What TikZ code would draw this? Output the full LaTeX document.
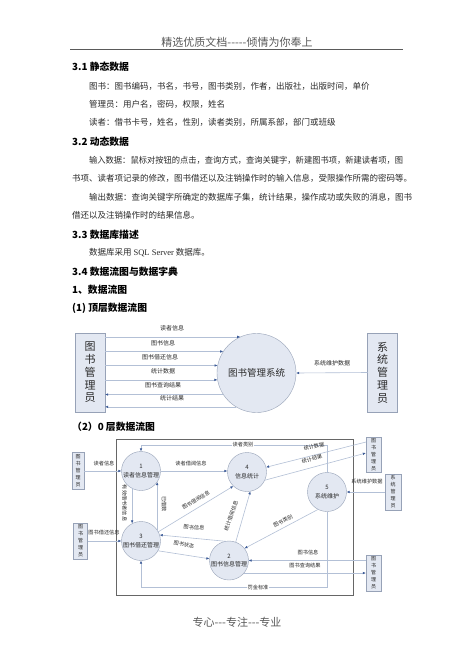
\documentclass[tikz,border=0pt]{standalone}
\usepackage{fontspec}
\usepackage{graphicx}
\setmainfont{Noto Sans CJK SC}[Ligatures=TeXOff]
\newfontfamily\lat{Liberation Serif}
\usetikzlibrary{arrows.meta,calc}
\definecolor{ln}{HTML}{B3C0D6}
\definecolor{tipc}{HTML}{3D5C98}
\definecolor{cfill}{HTML}{E3E8F2}
\definecolor{cdraw}{HTML}{97A2B7}
\definecolor{txt}{HTML}{2A2A2A}
\definecolor{hdr}{HTML}{5A5A5A}
\begin{document}
\begin{tikzpicture}[x=1pt,y=-1pt,
  body/.style={anchor=west,inner sep=0,font=\fontsize{8.5}{8.5}\selectfont,text=txt},
  head/.style={anchor=west,inner sep=0,font=\fontsize{9.8}{9.8}\selectfont\bfseries,text=black},
  bigbox/.style={draw=cdraw,fill=cfill,minimum width=30pt,minimum height=79pt,inner sep=0,outer sep=0,align=center,font=\fontsize{11}{12.75}\selectfont,text=txt},
  bigcirc/.style={circle,draw=cdraw,fill=cfill,minimum size=79pt,inner sep=0,outer sep=0,font=\fontsize{9.5}{9.5}\selectfont,text=txt},
  arr/.style={draw=ln,line width=0.6pt,-{Latex[length=3.2pt,width=2.6pt,color=tipc]}},
  lab/.style={inner sep=0.5pt,font=\fontsize{6}{6}\selectfont,text=txt},
  slab/.style={inner sep=0.3pt,font=\fontsize{5.2}{5.2}\selectfont,text=txt},
  sc/.style={circle,draw=cdraw,fill=cfill,minimum size=39pt,inner sep=0,outer sep=0,align=center,font=\fontsize{6}{8.5}\selectfont,text=txt},
  sb/.style={draw=cdraw,fill=cfill,inner sep=0,outer sep=0,align=center,font=\fontsize{5}{7}\selectfont,text=txt,minimum width=14pt,minimum height=36pt}
]
\useasboundingbox (0,0) rectangle (474,670);
\fill[white] (0,0) rectangle (474,670);

% header / footer
\node[inner sep=0,font=\fontsize{11}{11}\selectfont,text=hdr] (hd) at (237,42) {精选优质文档-----倾情为你奉上};
\draw[hdr,line width=0.5pt] (70,49.5) -- (403,49.5);
\node[inner sep=0,font=\fontsize{11}{11}\selectfont,text=hdr] (ft) at (237,622) {专心---专注---专业};

% text
\node[head] (h31) at (72,67) {3.1 静态数据};
\node[body] (t1) at (89,86) {图书：图书编码，书名，书号，图书类别，作者，出版社，出版时间，单价};
\node[body] (t2) at (89,104) {管理员：用户名，密码，权限，姓名};
\node[body] (t3) at (89,122.5) {读者：借书卡号，姓名，性别，读者类别，所属系部，部门或班级};
\node[head] (h32) at (72,141.5) {3.2 动态数据};
\node[body] (t4) at (89,160) {\scalebox{0.972}[1]{输入数据：鼠标对按钮的点击，查询方式，查询关键字，新建图书项，新建读者项，图}};
\node[body] (t5) at (72,178.5) {书项、读者项记录的修改，图书借还以及注销操作时的输入信息，受限操作所需的密码等。};
\node[body] (t6) at (89,197) {输出数据：查询关键字所确定的数据库子集，统计结果，操作成功或失败的消息，图书};
\node[body] (t7) at (72,215.5) {借还以及注销操作时的结果信息。};
\node[head] (h33) at (72,234.5) {3.3 数据库描述};
\node[body] (t8) at (89,253) {数据库采用 {\lat SQL Server} 数据库。};
\node[head] (h34) at (72,272) {3.4 数据流图与数据字典};
\node[head] (h1) at (72,290) {1、数据流图};
\node[head] (h2) at (72,308.5) {(1) 顶层数据流图};

% top-level DFD
\node[bigbox] (TL) at (90,372.5) {图\\书\\管\\理\\员};
\node[bigbox] (TR) at (382.5,372.5) {系\\统\\管\\理\\员};
\node[bigcirc] (TC) at (256.5,373) {图书管理系统};

\draw[arr] (TC.114.3 -| TL.east) -- (TC.114.3);
\draw[arr] (TC.147.9 -| TL.east) -- (TC.147.9);
\draw[arr] (TC.169.8 -| TL.east) -- (TC.169.8);
\draw[arr] (TC.190.2 -| TL.east) -- (TC.190.2);
\draw[arr] (TC.213.85) -- (TC.213.85 -| TL.east);
\draw[arr] (TC.239.4) -- (TC.239.4 -| TL.east);
\draw[arr] (TR.west) -- (TC.east);

\node[lab] (l1) at (172,328) {读者信息};
\node[lab] (l2) at (163,343) {图书信息};
\node[lab] (l3) at (160,357) {图书借还信息};
\node[lab] (l4) at (163,371) {统计数据};
\node[lab] (l5) at (163,385) {图书查询结果};
\node[lab] (l6) at (172,398.5) {统计结果};
\node[lab] (l7) at (332,363.5) {系统维护数据};

% 0-level DFD
\node[head] (h3) at (72,427) {（2）0 层数据流图};
\draw[draw=black!60,line width=1pt] (116,439) rectangle (353,595);

\node[sc] (C1) at (141,471) {1\\读者信息管理};
\node[sc] (C4) at (247,472) {4\\信息统计};
\node[sc] (C5) at (327,492) {5\\系统维护};
\node[sc] (C3) at (141,541) {3\\图书借还管理};
\node[sc] (C2) at (229,560.5) {2\\图书信息管理};

\node[sb,minimum width=12pt,minimum height=37pt] (B1) at (78,471) {图\\书\\管\\理\\员};
\node[sb] (B2) at (80.5,541) {图\\书\\管\\理\\员};
\node[sb,minimum width=15pt,minimum height=35pt] (B3) at (373.5,454.5) {图\\书\\管\\理\\员};
\node[sb,minimum width=16pt] (B4) at (393,492) {系\\统\\管\\理\\员};
\node[sb,minimum width=15pt] (B5) at (373.5,573) {图\\书\\管\\理\\员};

% flows
\draw[arr] (B1.east) -- (C1.west);
\node[slab] (f1) at (104,464) {读者信息};
\draw[arr] (C1.east) -- (C1.east -| C4.west);
\node[slab] (f2) at (191,464) {读者借阅信息};
\draw[arr] (C5.north) |- ($(C1.north)+(0,-6.5)$) -- (C1.north);
\node[slab,fill=white] (f3) at (243,445) {读者类别};
\draw[arr] (C1.-117.5) -- (C3.117.5);
\node[slab,rotate=-90] (f4) at (124.5,503) {有效借书者信息};
\draw[arr] (C3.34.9) -- (C1.-34.9);
\node[slab,rotate=-90] (f5) at (164,504) {已借数};
\draw[arr] (C3.28) -- (C4.-134);
\node[slab,rotate=31] (f6) at (196,500) {图书借阅信息};
\draw[arr] (C2.100) -- (C3.18);
\node[slab,rotate=-5] (f7) at (194,527.5) {图书信息};
\draw[arr] (C2.70) -- (C4.-80);
\node[slab,rotate=70] (f8) at (231,516) {统计借阅信息};
\draw[arr] (C3.-30) -- (C2.175);
\node[slab,rotate=-11] (f9) at (184,545) {图书状态};
\draw[arr] (C5.-117) -- (C2.38);
\node[slab,rotate=28] (f10) at (283,521) {图书类别};
\draw[arr] (B5.west |- C2.east) -- (C2.east);
\node[slab] (f11) at (308,552.5) {图书信息};
\draw[arr] (C2.-40) -- (C2.-40 -| B5.west);
\node[slab] (f12) at (305,565.5) {图书查询结果};
\draw[arr] (C5.south) |- ($(C3.south)+(0,26.5)$) -- (C3.south);
\node[slab,fill=white] (f13) at (258,587) {罚金标准};
\draw[arr] (B2.east) -- (C3.west);
\node[slab] (f14) at (104,532.5) {图书借还信息};
\draw[arr] (B4.west) -- (C5.east);
\node[slab] (f15) at (367,482) {系统维护数据};
\draw[arr] ($(B3.west)+(0,-12.5)$) -- (C4.14);
\node[slab,rotate=14] (f16) at (314,446.5) {统计数据};
\draw[arr] (C4.-25) -- ($(B3.west)+(0,-1.5)$);
\node[slab,rotate=15] (f17) at (312,459) {统计结果};
\end{tikzpicture}
\end{document}
